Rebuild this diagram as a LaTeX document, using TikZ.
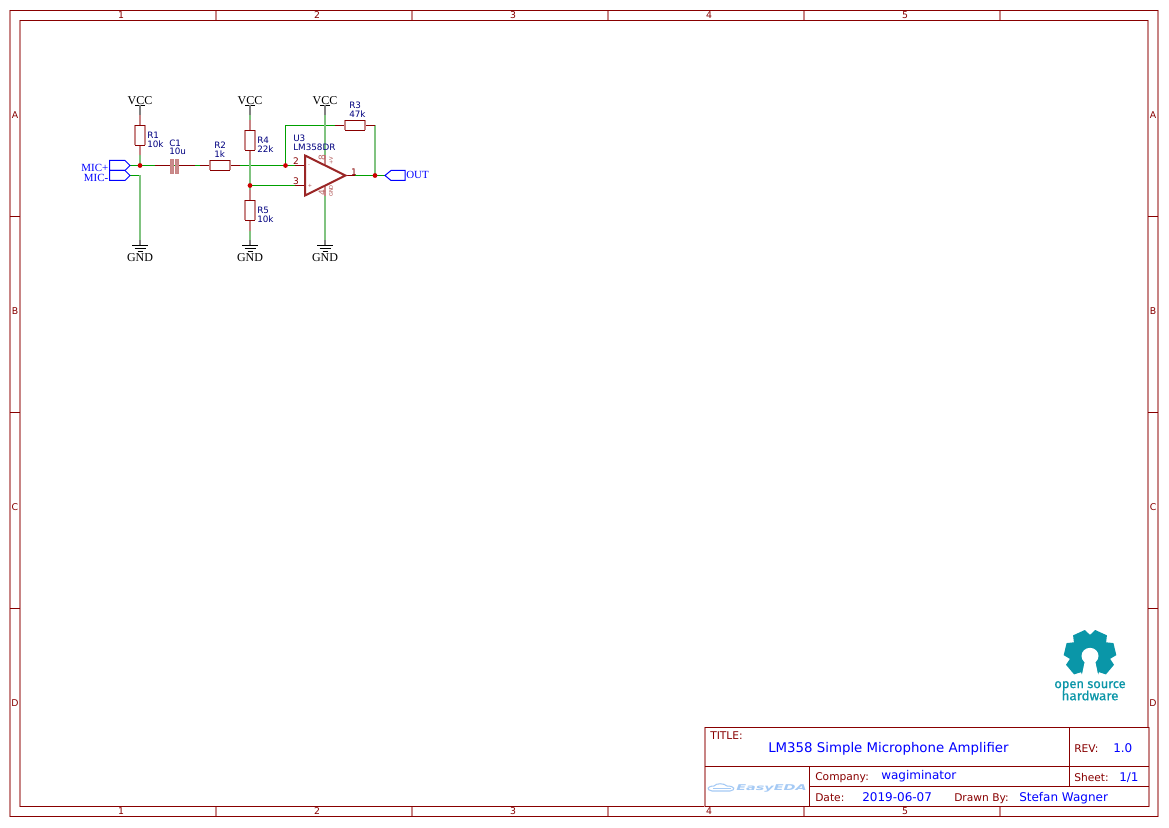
\documentclass[tikz,border=0pt]{standalone}
\usepackage{fontspec}
\setmainfont{Liberation Serif}
\setsansfont{DejaVu Sans}
\newfontfamily\oshfont[FakeBold=0.7]{Fira Sans}
\usetikzlibrary{calc}
\definecolor{pinred}{HTML}{880000}
\definecolor{palepin}{HTML}{C88484}
\definecolor{wiregreen}{HTML}{00A000}
\definecolor{palegreen}{HTML}{80C380}
\definecolor{portblue}{HTML}{0000FF}
\definecolor{refblue}{HTML}{000080}
\definecolor{oshteal}{HTML}{0A96A8}
\definecolor{edablue}{HTML}{A5CAF5}
\tikzset{
  x=0.75pt,y=-0.75pt,
  frameline/.style={draw=pinred,line width=0.75pt},
  framev/.style={draw=palepin,line width=1.5pt},
  wire/.style={draw=wiregreen,line width=0.8pt},
  vwire/.style={draw=palegreen,line width=1.5pt},
  pin/.style={draw=pinred,line width=0.75pt},
  vpin/.style={draw=palepin,line width=1.5pt},
  stem/.style={draw=black!50,line width=1.5pt},
  netbar/.style={draw=black,line width=0.75pt},
  rv/.style={fill=white,minimum width=7.5pt,minimum height=15pt,inner sep=0pt,outer sep=0pt},
  rh/.style={fill=white,minimum width=15pt,minimum height=7.5pt,inner sep=0pt,outer sep=0pt},
  cplate/.style={draw=palepin,fill=pinred!45,line width=0.5pt,minimum width=2pt,minimum height=10.5pt,inner sep=0pt,outer sep=0pt},
  dot/.style={circle,fill=red!80!black,minimum size=3.6pt,inner sep=0pt,outer sep=0pt},
  reft/.style={font=\sffamily\fontsize{6.6}{7}\selectfont,text=refblue,inner sep=0pt,anchor=base west},
  pinnum/.style={font=\sffamily\fontsize{6.8}{7}\selectfont,text=pinred,inner sep=0pt},
  pintiny/.style={font=\sffamily\fontsize{3.8}{4}\selectfont,text=pinred!70,inner sep=0pt},
  net/.style={font=\fontsize{9}{10}\selectfont,text=black,inner sep=0pt},
  port/.style={font=\fontsize{8.2}{10}\selectfont,text=portblue,inner sep=0pt},
  portshape/.style={draw=portblue,line width=0.75pt,line join=miter},
  fr/.style={font=\sffamily\fontsize{7}{7}\selectfont,text=pinred,inner sep=0pt},
  tl/.style={font=\sffamily\fontsize{8}{9}\selectfont,text=pinred,inner sep=0pt,anchor=base west},
  tv/.style={font=\sffamily\fontsize{9}{10}\selectfont,text=portblue,inner sep=0pt,anchor=base west},
  osh/.style={font=\oshfont\fontsize{9.6}{10}\selectfont,text=oshteal,inner sep=0pt},
}
\begin{document}
\begin{tikzpicture}
\useasboundingbox (0,0) rectangle (1169,827);
\fill[white] (0,0) rectangle (1169,827);

% ---------- sheet frame
\draw[framev] (10,10) -- (10,817) (1158,10) -- (1158,817) (20,20) -- (20,807) (1148,20) -- (1148,807);
\foreach \tx in {216,412,608,804,1000}{
  \draw[framev] (\tx,10.5) -- (\tx,20.5) (\tx,806.5) -- (\tx,816.5);
}
\draw[frameline] (10,10.5) -- (1158,10.5) (10,816.5) -- (1158,816.5);
\draw[frameline] (20,20.5) -- (1148,20.5) (20,806.5) -- (1148,806.5);
\foreach \ty in {216,412,608}{
  \draw[frameline] (10,\ty+.5) -- (20,\ty+.5) (1148,\ty+.5) -- (1158,\ty+.5);
}
\foreach \n/\tx in {1/121,2/317,3/513,4/709,5/905}{
  \node[fr] (ft\n) at (\tx,15.5) {\n};
  \node[fr] (fb\n) at (\tx,811.5) {\n};
}
\foreach \n/\ty in {A/115,B/311,C/507,D/703}{
  \node[fr] (fl\n) at (15,\ty) {\n};
  \node[fr] (fr\n) at (1153,\ty) {\n};
}

% ---------- title block
\fill[white] (705,727) rectangle (1149,807);
\draw[framev] (705,727) -- (705,807) (1149,727) -- (1149,807);
\draw[frameline] (705,727.5) -- (1149,727.5) (705,806.5) -- (1149,806.5);
\draw[frameline] (705,766.5) -- (1149,766.5) (809,786.5) -- (1149,786.5);
\draw[frameline] (1069.5,727) -- (1069.5,786.5) (809.5,766.5) -- (809.5,806.5);
\node[tl] (tTitle) at (710,739) {TITLE:};
\node[tv,font=\sffamily\fontsize{10}{11}\selectfont] (tName) at (768,752) {LM358 Simple Microphone Amplifier};
\node[tl] (tRev) at (1074,752) {REV:};
\node[tv] (tRevV) at (1113,752.5) {1.0};
\node[tl] (tComp) at (815,780) {Company:};
\node[tv] (tCompV) at (881,779.5) {wagiminator};
\node[tl] (tSheet) at (1074,781) {Sheet:};
\node[tv] (tSheetV) at (1119,781.5) {1/1};
\node[tl] (tDate) at (815,801.5) {Date:};
\node[tv] (tDateV) at (862,801.5) {2019-06-07};
\node[tl] (tBy) at (954,801.5) {Drawn By:};
\node[tv] (tByV) at (1019,801.5) {Stefan Wagner};
% EasyEDA logo
\draw[edablue,line width=0.8pt] (712,791) .. controls (706,790) and (707,786) .. (714,786) .. controls (716,783) and (724,783) .. (727,786) .. controls (735,786) and (736,790) .. (730,791) -- cycle;
\draw[edablue,line width=0.6pt] (713,788.5) -- (731,788.5);
\node[inner sep=0pt,text=edablue,font=\sffamily\bfseries\itshape\fontsize{6}{7}\selectfont,xscale=1.8] (eda) at (771.5,788.5) {EasyEDA};

% ---------- OSHW logo
\begin{scope}[shift={(1090,654.5)},yscale=0.95]
  \fill[oshteal] (0,0) circle[radius=20];
  \foreach \a in {90,141.43,192.86,244.29,295.71,347.14,38.57}{
    \fill[oshteal,rotate=-\a] (17,-9.5) -- (25.5,-6.5) -- (25.5,6.5) -- (17,9.5) -- cycle;
  }
  \fill[white] (-5,6) -- (-9,26) -- (9,26) -- (5,6) -- cycle;
  \fill[white] (0,1.5) circle[radius=8.5];
\end{scope}
\node[osh] (osh1) at (1090,686) {open source};
\node[osh,xscale=1.05] (osh2) at (1090,695.5) {hardware};

% ---------- coordinates
\coordinate (v1) at (140,105);  \coordinate (v2) at (250,105);  \coordinate (v3) at (325,105);
\coordinate (g1) at (140,245);  \coordinate (g2) at (250,245);  \coordinate (g3) at (325,245);
\coordinate (j1) at (140,165.5);
\coordinate (j2) at (285.5,165.5);
\coordinate (j3) at (250,185.5);
\coordinate (j4) at (375,175.5);
\coordinate (fb) at (285.5,125.5);
\coordinate (fb2) at (375,125.5);
\coordinate (mm) at (140,175.5);

% ---------- parts
\node[rv] (R1) at (140,135.5) {};
\node[rv] (R4) at (250,140.5) {};
\node[rv] (R5) at (250,210.5) {};
\node[rh] (R2) at (220,165.5) {};
\node[rh] (R3) at (355,125.5) {};

% wires
\draw[vwire] (v1) -- (R1.north);
\draw[vwire] (R1.south) -- (j1);
\draw[wire] (j1) -- (R2.west);
\draw[wire] (R2.east) -- (j2);
\draw[vwire] (v2) -- (R4.north);
\draw[vwire] (R4.south) -- (R5.north);
\draw[vwire] (R5.south) -- (g2);
\draw[wire] (j3) -- (305,185.5);
\draw[wire] (j2) -- (305,165.5);
\draw[wire] (j2) -- (fb) -- (R3.west);
\draw[wire] (R3.east) -- (fb2);
\draw[vwire] (fb2) -- (j4);
\draw[wire] (345,175.5) -- (j4) -- (385,175.5);
\draw[vwire] (v3) -- (g3);
\draw[wire] (mm) -- (130,175.5);
\draw[vwire] (mm) -- (g1);
\draw[wire] (130,165.5) -- (j1);

% pin stubs
\draw[vpin] (R1.north) -- ++(0,-10);
\draw[vpin] (R1.south) -- ++(0,10);
\draw[vpin] (R4.north) -- ++(0,-10);
\draw[vpin] (R4.south) -- ++(0,10);
\draw[vpin] (R5.north) -- ++(0,-10);
\draw[vpin] (R5.south) -- ++(0,10);
\draw[pin] (R2.west) -- ++(-10,0);
\draw[pin] (R2.east) -- ++(10,0);
\draw[pin] (R3.west) -- ++(-10,0);
\draw[pin] (R3.east) -- ++(10,0);
\draw[pin] (155,165.5) -- (171,165.5);
\draw[pin] (177,165.5) -- (195,165.5);
\draw[pin] (305,165.5) -- (295,165.5);
\draw[pin] (305,185.5) -- (295,185.5);
\draw[pin] (345,175.5) -- (355,175.5);
\draw[vpin] (325,165) -- (325,155);
\draw[vpin] (325,186) -- (325,196);

% resistor outlines
\foreach \r in {R1,R2,R3,R4,R5}{
  \draw[vpin] (\r.north west) -- (\r.south west) (\r.north east) -- (\r.south east);
  \draw[pin] (\r.north west) -- (\r.north east) (\r.south west) -- (\r.south east);
}

% capacitor
\node[cplate] (C1a) at (172,166) {};
\node[cplate] (C1b) at (176.5,166) {};

% op amp
\draw[draw=pinred!85,line width=1.5pt,line join=miter,fill=white] (305,155.5) -- (345.5,175.5) -- (305,195.5) -- cycle;
\node[pintiny] (um) at (309,165.5) {-};
\node[pintiny] (up) at (310,186) {+};
\node[pinnum] (p2) at (296,161) {2};
\node[pinnum] (p3) at (296,181) {3};
\node[pinnum,rotate=90,text=pinred!60] (p8) at (322,157.5) {8};
\node[pinnum,rotate=90,text=pinred!60] (p4) at (322,193) {4};
\node[pinnum] (p1) at (354,172) {1};
\node[pintiny,rotate=90] (tv) at (331,161) {+V};
\node[pintiny,rotate=90] (tg) at (331,191) {GND};

% junctions
\node[dot] (d1) at (j1) {};
\node[dot] (d2) at (j2) {};
\node[dot] (d3) at (j3) {};
\node[dot] (d4) at (j4) {};

% supply symbols
\foreach \c/\xx in {v1/140,v2/250,v3/325}{
  \draw[netbar] (\xx-5,105.5) -- (\xx+5,105.5);
  \draw[stem] (\c) -- ++(0,10);
  \node[net] (l\c) at (\xx,101) {VCC};
}
\foreach \c/\xx in {g1/140,g2/250,g3/325}{
  \draw[stem] (\c) -- ++(0,-5);
  \draw[netbar] (\xx-8,245.5) -- (\xx+8,245.5) (\xx-5.5,248.5) -- (\xx+5.5,248.5) (\xx-2.5,251.5) -- (\xx+2.5,251.5);
  \node[net] (l\c) at (\xx,258) {GND};
}

% ports
\draw[portshape] (109.5,160.5) -- (125,160.5) -- (130,165.5) -- (125,170.5) -- (109.5,170.5) -- cycle;
\draw[portshape] (109.5,170.5) -- (125,170.5) -- (130,175.5) -- (125,180.5) -- (109.5,180.5) -- cycle;
\draw[portshape] (385,175.5) -- (391,170.5) -- (405,170.5) -- (405,180.5) -- (391,180.5) -- cycle;
\node[port,anchor=east] (lp) at (108.5,167.5) {MIC+};
\node[port,anchor=east] (lm) at (108.5,177.5) {MIC-};
\node[port,anchor=west] (lo) at (406,174.5) {OUT};

% reference labels
\node[reft] (tR1) at (147,138.5) {R1};
\node[reft] (vR1) at (147,148) {10k};
\node[reft] (tC1) at (169,147) {C1};
\node[reft] (vC1) at (169,155) {10u};
\node[reft] (tR2) at (214,148.5) {R2};
\node[reft] (vR2) at (214,158) {1k};
\node[reft] (tR4) at (257,143.5) {R4};
\node[reft] (vR4) at (257,153) {22k};
\node[reft] (tR5) at (257,213.5) {R5};
\node[reft] (vR5) at (257,223) {10k};
\node[reft] (tR3) at (349,108.5) {R3};
\node[reft] (vR3) at (349,118) {47k};
\node[reft] (tU3) at (293,141.5) {U3};
\node[reft] (vU3) at (293,151) {LM358DR};
\end{tikzpicture}
\end{document}
